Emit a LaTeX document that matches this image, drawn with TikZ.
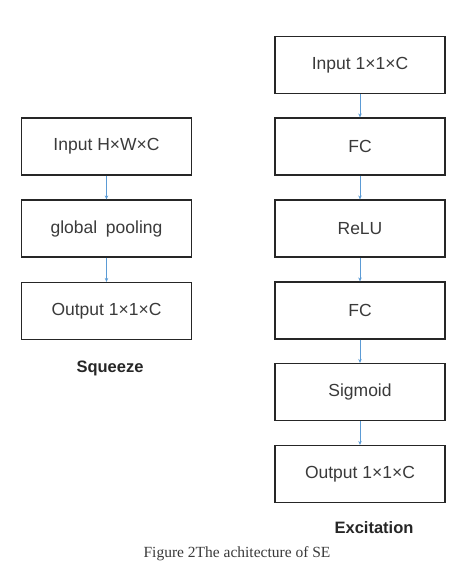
\documentclass[tikz,border=0pt]{standalone}
\usepackage{fontspec}
\setmainfont{Liberation Serif}
\setsansfont{Liberation Sans}
\usetikzlibrary{arrows.meta}
\definecolor{arrowblue}{HTML}{5B9BD5}
\definecolor{textgray}{HTML}{3A3A3A}
\begin{document}
\begin{tikzpicture}[x=1pt, y=-1pt,
    layer/.style={rectangle, draw=black!85, line width=1.2pt, minimum width=170pt,
        minimum height=57pt, inner sep=0pt, font=\sffamily\fontsize{17.5}{19}\selectfont, text=textgray},
    flow/.style={draw=arrowblue, line width=0.7pt, -{Stealth[length=4pt, width=3.5pt]}},
    tag/.style={font=\sffamily\bfseries\fontsize{16.5}{18}\selectfont, text=black!85}]
    \useasboundingbox (0,0) rectangle (474,574);
    % Nodes
    \node[layer] (sqin) at (106.5,146.5) {Input H×W×C};
    \node[layer] (pool) at (106.5,228.5) {global\enspace pooling};
    \node[layer] (sqout) at (106.5,311) {Output 1×1×C};
    \node[tag] (squeeze) at (110,368) {Squeeze};
    \node[layer] (exin) at (360,65) {Input 1×1×C};
    \node[layer] (fc1) at (360,146.5) {FC};
    \node[layer] (relu) at (360,228.5) {ReLU};
    \node[layer] (fc2) at (360,310.5) {FC};
    \node[layer] (sig) at (360,392) {Sigmoid};
    \node[layer] (exout) at (360,474) {Output 1×1×C};
    \node[tag] (excitation) at (374,528) {Excitation};
    \node[font=\fontsize{15.5}{17}\selectfont, text=textgray] (caption) at (237,554) {Figure 2The achitecture of SE};
    % Edges
    \draw[flow] (sqin) -- (pool);
    \draw[flow] (pool) -- (sqout);
    \draw[flow] (exin) -- (fc1);
    \draw[flow] (fc1) -- (relu);
    \draw[flow] (relu) -- (fc2);
    \draw[flow] (fc2) -- (sig);
    \draw[flow] (sig) -- (exout);
\end{tikzpicture}
\end{document}
